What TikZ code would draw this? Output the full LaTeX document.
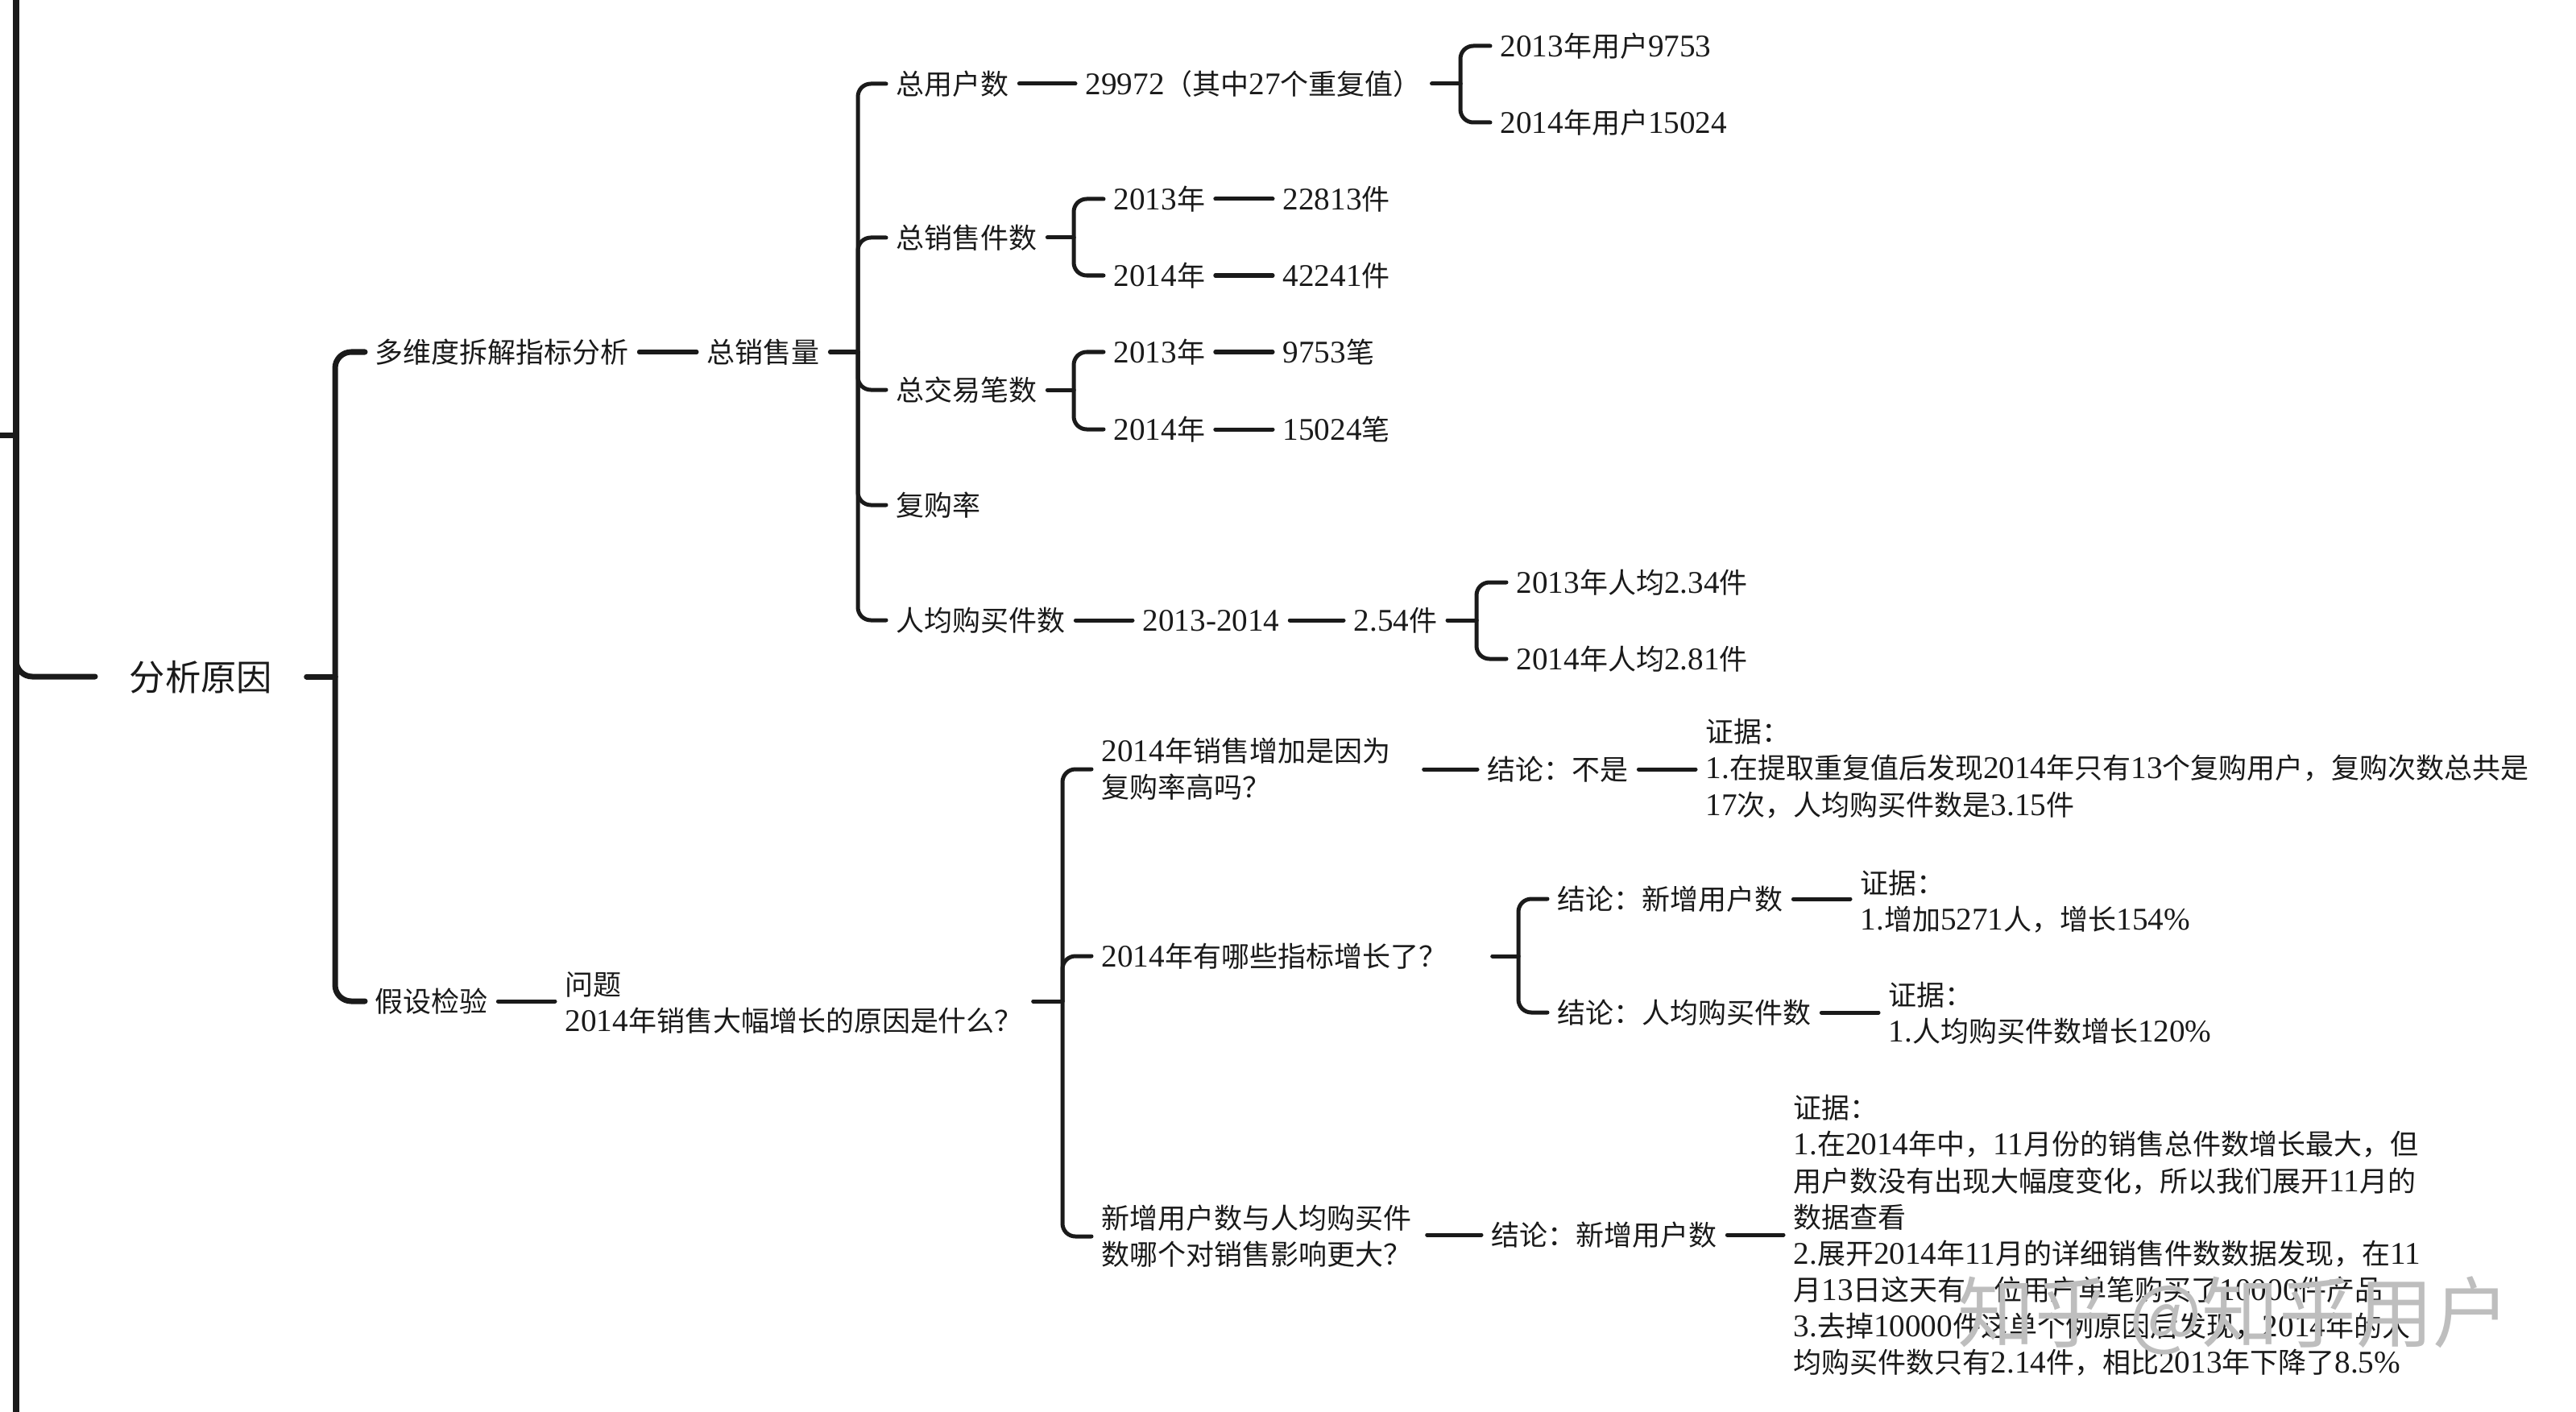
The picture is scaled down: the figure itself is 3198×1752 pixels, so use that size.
\documentclass[tikz,border=0pt]{standalone}
\usepackage{fontspec}
\setmainfont{Noto Sans CJK SC}
\newfontfamily\numfont[Scale=1.12]{Liberation Serif}
\newcommand{\Num}[1]{{\numfont #1}}
\definecolor{Col1}{RGB}{26,26,26}
\definecolor{Col2}{RGB}{190,190,190}
\tikzset{x=.01cm,y=-.01cm}
\tikzset{Node/.style={anchor=west,inner xsep=.12cm,inner ysep=0pt,text=Col1,
    font=\fontsize{9.95pt}{12.85pt}\selectfont,align=left}}
\tikzset{NodeOne/.style={Node,text height=.32cm,text depth=.05cm}}
\tikzset{NodeRoot/.style={NodeOne,font=\fontsize{12.6pt}{15pt}\selectfont,
    inner xsep=.42cm,text height=.4cm,text depth=.06cm}}
\tikzset{NodeMark/.style={anchor=west,inner sep=0pt,text=Col2,font=\fontsize{27.2pt}{28pt}\selectfont}}
\tikzset{Edge/.style={draw=Col1,line cap=round,line width=.05cm,rounded corners=.16cm}}
\tikzset{EdgeBig/.style={draw=Col1,line cap=round,line width=.07cm,rounded corners=.2cm}}
\begin{document}
\begin{tikzpicture}
    \useasboundingbox(0,0)rectangle(3198,1752);
    % left part
    \coordinate(top)at(20,-10);
    \coordinate(bot)at(20,1762);
    \coordinate(stub)at(-10,540);
    \coordinate(t1)at(20,540);
    \node[NodeRoot](root)at(118,840){分析原因};
    \coordinate(t2)at(416,840);
    \node[NodeOne](dim)at(453,437){多维度拆解指标分析};
    \node[NodeOne](test)at(453,1243){假设检验};
    \node[NodeOne](sales)at(865,437){总销售量};
    \coordinate(t3)at(1065,437);
    % total sales
    \node[NodeOne](users)at(1100,104){总用户数};
    \node[NodeOne](items)at(1100,295){总销售件数};
    \node[NodeOne](deals)at(1100,484){总交易笔数};
    \node[NodeOne](again)at(1100,627){复购率};
    \node[NodeOne](avg)at(1100,770){人均购买件数};
    \node[NodeOne](usersn)at(1335,104){\Num{29972}（其中\Num{27}个重复值）};
    \coordinate(t4)at(1813,104);
    \node[NodeOne](users13)at(1850,57){\Num{2013}年用户\Num{9753}};
    \node[NodeOne](users14)at(1850,152){\Num{2014}年用户\Num{15024}};
    \coordinate(t5)at(1333,295);
    \node[NodeOne](items13)at(1370,247){\Num{2013}年};
    \node[NodeOne](items14)at(1370,342){\Num{2014}年};
    \node[NodeOne](items13n)at(1580,247){\Num{22813}件};
    \node[NodeOne](items14n)at(1580,342){\Num{42241}件};
    \coordinate(t6)at(1333,484);
    \node[NodeOne](deals13)at(1370,437){\Num{2013}年};
    \node[NodeOne](deals14)at(1370,533){\Num{2014}年};
    \node[NodeOne](deals13n)at(1580,437){\Num{9753}笔};
    \node[NodeOne](deals14n)at(1580,533){\Num{15024}笔};
    \node[NodeOne](avgy)at(1406,770){\Num{2013-2014}};
    \node[NodeOne](avgn)at(1668,770){\Num{2.54}件};
    \coordinate(t7)at(1833,770);
    \node[NodeOne](avg13)at(1870,723){\Num{2013}年人均\Num{2.34}件};
    \node[NodeOne](avg14)at(1870,818){\Num{2014}年人均\Num{2.81}件};
    % hypothesis
    \node[Node](ask)at(689,1245){问题\\\Num{2014}年销售大幅增长的原因是什么？};
    \coordinate(t8)at(1319,1243);
    \node[Node,text width=3.87cm](q1)at(1355,955){\Num{2014}年销售增加是因为\\复购率高吗？};
    \node[NodeOne,text width=4.72cm](q2)at(1355,1187){\Num{2014}年有哪些指标增长了？};
    \node[Node,text width=3.91cm](q3)at(1355,1535){新增用户数与人均购买件\\数哪个对销售影响更大？};
    \node[NodeOne](a1)at(1834,955){结论：不是};
    \node[Node](e1)at(2105,954){证据：\\\Num{1.}在提取重复值后发现\Num{2014}年只有\Num{13}个复购用户，复购次数总共是\\\Num{17}次，人均购买件数是\Num{3.15}件};
    \coordinate(t9)at(1885,1187);
    \node[NodeOne](a2)at(1921,1116){结论：新增用户数};
    \node[NodeOne](a3)at(1921,1257){结论：人均购买件数};
    \node[Node](e2)at(2297,1119){证据：\\\Num{1.}增加\Num{5271}人，增长\Num{154\%}};
    \node[Node](e3)at(2332,1258){证据：\\\Num{1.}人均购买件数增长\Num{120\%}};
    \node[NodeOne](a4)at(1839,1533){结论：新增用户数};
    \node[Node](e4)at(2214,1534){证据：\\\Num{1.}在\Num{2014}年中，\Num{11}月份的销售总件数增长最大，但\\用户数没有出现大幅度变化，所以我们展开\Num{11}月的\\数据查看\\\Num{2.}展开\Num{2014}年\Num{11}月的详细销售件数数据发现，在\Num{11}\\月\Num{13}日这天有一位用户单笔购买了\Num{10000}件产品\\\Num{3.}去掉\Num{10000}件这单个例原因后发现，\Num{2014}年的人\\均购买件数只有\Num{2.14}件，相比\Num{2013}年下降了\Num{8.5\%}};
    \node[NodeMark](mark)at(2430,1633){知乎 @知乎用户};
    % edges
    \draw[EdgeBig](top)--(bot);
    \draw[EdgeBig](stub)--(t1);
    \draw[EdgeBig](t1)|-(root.west);
    \draw[EdgeBig](root.east)--(t2);
    \draw[EdgeBig](t2)|-(dim.west);
    \draw[EdgeBig](t2)|-(test.west);
    \draw[Edge](dim.east)--(sales.west);
    \draw[Edge](sales.east)--(t3);
    \draw[Edge](t3)|-(users.west);
    \draw[Edge](t3)|-(items.west);
    \draw[Edge](t3)|-(deals.west);
    \draw[Edge](t3)|-(again.west);
    \draw[Edge](t3)|-(avg.west);
    \draw[Edge](users.east)--(usersn.west);
    \draw[Edge](usersn.east)--(t4);
    \draw[Edge](t4)|-(users13.west);
    \draw[Edge](t4)|-(users14.west);
    \draw[Edge](items.east)--(t5);
    \draw[Edge](t5)|-(items13.west);
    \draw[Edge](t5)|-(items14.west);
    \draw[Edge](items13.east)--(items13n.west);
    \draw[Edge](items14.east)--(items14n.west);
    \draw[Edge](deals.east)--(t6);
    \draw[Edge](t6)|-(deals13.west);
    \draw[Edge](t6)|-(deals14.west);
    \draw[Edge](deals13.east)--(deals13n.west);
    \draw[Edge](deals14.east)--(deals14n.west);
    \draw[Edge](avg.east)--(avgy.west);
    \draw[Edge](avgy.east)--(avgn.west);
    \draw[Edge](avgn.east)--(t7);
    \draw[Edge](t7)|-(avg13.west);
    \draw[Edge](t7)|-(avg14.west);
    \draw[Edge](test.east)--(test.east-|ask.west);
    \draw[Edge](t8-|ask.east)--(t8);
    \draw[Edge](t8)|-(q1.west);
    \draw[Edge](t8)|-(q2.west);
    \draw[Edge](t8)|-(q3.west);
    \draw[Edge](q1.east)--(a1.west);
    \draw[Edge](a1.east)--(a1.east-|e1.west);
    \draw[Edge](q2.east)--(t9);
    \draw[Edge](t9)|-(a2.west);
    \draw[Edge](t9)|-(a3.west);
    \draw[Edge](a2.east)--(a2.east-|e2.west);
    \draw[Edge](a3.east)--(a3.east-|e3.west);
    \draw[Edge](a4.west-|q3.east)--(a4.west);
    \draw[Edge](a4.east)--(a4.east-|e4.west);
\end{tikzpicture}
\end{document}
